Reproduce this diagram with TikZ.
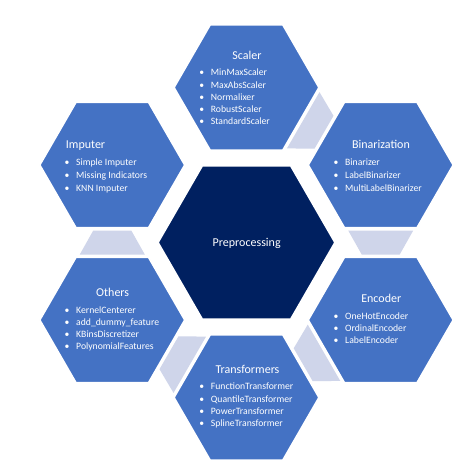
\documentclass[tikz,border=0pt]{standalone}
\usepackage{fontspec}
\setmainfont{Carlito}
\usetikzlibrary{calc,shapes.geometric}
\definecolor{hexblue}{HTML}{4472C4}
\definecolor{hexnavy}{HTML}{002060}
\definecolor{conlight}{HTML}{CFD5EA}
\tikzset{
 hexo/.style={regular polygon, regular polygon sides=6, minimum size=144.8pt, inner sep=0pt, outer sep=0pt, fill=hexblue, draw=white, line width=1.5pt},
 hexc/.style={hexo, fill=hexnavy, minimum size=176.8pt},
 conn/.style={fill=conlight, draw=none},
 ttl/.style={text=white, inner sep=0pt, font=\fontsize{12}{14}\selectfont, anchor=base},
 ttll/.style={ttl, anchor=base west},
 itm/.style={text=white, inner sep=0pt, font=\fontsize{9.7}{11}\selectfont, anchor=base west},
 bul/.style={text=white, inner sep=0pt, font=\fontsize{9.7}{11}\selectfont, anchor=base},
}
\newcommand{\conpath}[2]{%
 \fill[conn] ($(#1)!0.4226!(#2)!32.5pt!90:(#2)$) -- ($(#1)!0.5774!(#2)!19pt!90:(#2)$) -- ($(#1)!0.5774!(#2)!19pt!-90:(#2)$) -- ($(#1)!0.4226!(#2)!32.5pt!-90:(#2)$) -- cycle;}
\newcommand{\bitem}[4]{%
 \node[itm] (#1) at (#2,#3+3.2) {#4};
 \node[bul] (#1b) at ([xshift=-9pt]#1.base west) {\textbullet};}
\begin{document}
\begin{tikzpicture}[x=1pt,y=-1pt]
\fill[white] (0,0) rectangle (461,464);
\useasboundingbox (0,0) rectangle (461,464);
\coordinate (cC) at (246.5,242.5);
\coordinate (cS) at (246.5,87.5);
\coordinate (cB) at (380.73,165);
\coordinate (cE) at (380.73,320);
\coordinate (cT) at (246.5,397.5);
\coordinate (cO) at (112.27,320);
\coordinate (cI) at (112.27,165);
% connectors
\conpath{cS}{cB}
\conpath{cB}{cE}
\conpath{cE}{cT}
\conpath{cT}{cO}
\conpath{cO}{cI}
% hexagons
\node[hexc] (C) at (cC) {};
\node[hexo] (S) at (cS) {};
\node[hexo] (B) at (cB) {};
\node[hexo] (E) at (cE) {};
\node[hexo] (T) at (cT) {};
\node[hexo] (O) at (cO) {};
\node[hexo] (I) at (cI) {};
% texts
\node[ttl] (tC) at (246.7,246.2) {Preprocessing};
\node[ttl] (tS) at (247,59.6) {Scaler};
\bitem{s1}{210.7}{72.7}{MinMaxScaler}
\bitem{s2}{210.7}{84.95}{MaxAbsScaler}
\bitem{s3}{210.7}{97.2}{Normalixer}
\bitem{s4}{210.7}{109.45}{RobustScaler}
\bitem{s5}{210.7}{121.7}{StandardScaler}
\node[ttl] (tB) at (381,148.9) {Binarization};
\bitem{b1}{345}{162.7}{Binarizer}
\bitem{b2}{345}{175.3}{LabelBinarizer}
\bitem{b3}{345}{188}{MultiLabelBinarizer}
\node[ttl] (tE) at (381.3,302.2) {Encoder};
\bitem{e1}{345}{316}{OneHotEncoder}
\bitem{e2}{345}{328.3}{OrdinalEncoder}
\bitem{e3}{345}{340.7}{LabelEncoder}
\node[ttl] (tT) at (247.5,373.2) {Transformers};
\bitem{t1}{210.7}{386.7}{FunctionTransformer}
\bitem{t2}{210.7}{399}{QuantileTransformer}
\bitem{t3}{210.7}{411.2}{PowerTransformer}
\bitem{t4}{210.7}{423.3}{SplineTransformer}
\node[ttl] (tO) at (112.7,296.2) {Others};
\bitem{o1}{76}{310}{KernelCenterer}
\bitem{o2}{76}{322.2}{add\_dummy\_feature}
\bitem{o3}{76}{334.5}{KBinsDiscretizer}
\bitem{o4}{76}{346.7}{PolynomialFeatures}
\node[ttll] (tI) at (65.7,148.9) {Imputer};
\bitem{i1}{76}{162.7}{Simple Imputer}
\bitem{i2}{76}{175}{Missing Indicators}
\bitem{i3}{76}{188.3}{KNN Imputer}
\end{tikzpicture}
\end{document}
